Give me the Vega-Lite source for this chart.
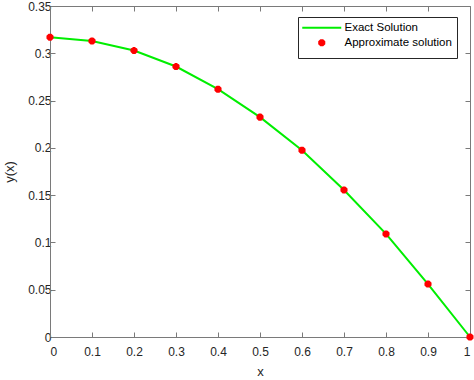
{
  "$schema": "https://vega.github.io/schema/vega-lite/v6.json",
  "width": 420,
  "height": 331,
  "autosize": {"type": "none"},
  "padding": {"left": 50, "top": 6, "right": 4, "bottom": 43},
  "background": "white",
  "config": {
    "view": {"stroke": null},
    "font": "Liberation Sans",
    "axis": {
      "grid": false,
      "domainColor": "#7a7a7a",
      "tickColor": "#7a7a7a",
      "tickSize": -5,
      "labelColor": "#262626",
      "labelFontSize": 12,
      "labelFont": "Liberation Sans",
      "titleFont": "Liberation Sans",
      "titleFontSize": 13,
      "titleFontWeight": "normal",
      "titleColor": "#262626"
    }
  },
  "data": {
    "values": [
      {"x": 0.0, "y": 0.317},
      {"x": 0.1, "y": 0.313},
      {"x": 0.2, "y": 0.303},
      {"x": 0.3, "y": 0.286},
      {"x": 0.4, "y": 0.262},
      {"x": 0.5, "y": 0.2325},
      {"x": 0.6, "y": 0.1975},
      {"x": 0.7, "y": 0.1555},
      {"x": 0.8, "y": 0.109},
      {"x": 0.9, "y": 0.056},
      {"x": 1.0, "y": 0.0}
    ]
  },
  "resolve": {"axis": {"x": "independent", "y": "independent"}},
  "layer": [
    {
      "mark": {"type": "line", "color": "#00ee00", "strokeWidth": 2},
      "encoding": {
        "x": {
          "field": "x", "type": "quantitative",
          "scale": {"domain": [0, 1], "nice": false},
          "axis": {"values": [0, 0.1, 0.2, 0.3, 0.4, 0.5, 0.6, 0.7, 0.8, 0.9, 1], "format": "~g", "title": "x", "labelPadding": 14, "titlePadding": 8}
        },
        "y": {
          "field": "y", "type": "quantitative",
          "scale": {"domain": [0, 0.35], "nice": false},
          "axis": {"values": [0, 0.05, 0.1, 0.15, 0.2, 0.25, 0.3, 0.35], "format": "~g", "title": "y(x)", "labelPadding": 4, "titlePadding": 11}
        },
        "color": {
          "datum": "Exact Solution",
          "type": "nominal",
          "scale": {"domain": ["Exact Solution", "Approximate solution"], "range": ["#00ee00", "#ff0000"]},
          "legend": {
            "title": null,
            "orient": "none",
            "legendX": 248,
            "legendY": 11,
            "strokeColor": "#262626",
            "fillColor": "white",
            "padding": 5,
            "labelFontSize": 11.5,
            "labelColor": "#000000",
            "labelFont": "Liberation Sans",
            "symbolOffset": 13,
            "labelOffset": 17,
            "rowPadding": -1,
            "encode": {
              "symbols": {
                "update": {
                  "shape": {"signal": "datum.value === 'Exact Solution' ? 'stroke' : 'M-1,0L1,0M0,-1L0,1M-0.7,-0.7L0.7,0.7M-0.7,0.7L0.7,-0.7'"},
                  "size": {"signal": "datum.value === 'Exact Solution' ? 1521 : 50"},
                  "stroke": {"signal": "datum.value === 'Exact Solution' ? '#00ee00' : '#ff0000'"},
                  "strokeWidth": {"signal": "datum.value === 'Exact Solution' ? 2 : 3"},
                  "fill": {"value": "transparent"}
                }
              }
            }
          }
        }
      }
    },
    {
      "mark": {"type": "point", "shape": "M-1,0L1,0M0,-1L0,1M-0.7,-0.7L0.7,0.7M-0.7,0.7L0.7,-0.7", "size": 50, "strokeWidth": 3, "filled": false, "opacity": 1},
      "encoding": {
        "x": {
          "field": "x", "type": "quantitative",
          "scale": {"domain": [0, 1], "nice": false},
          "axis": {"orient": "top", "values": [0, 0.1, 0.2, 0.3, 0.4, 0.5, 0.6, 0.7, 0.8, 0.9, 1], "labels": false, "title": null}
        },
        "y": {
          "field": "y", "type": "quantitative",
          "scale": {"domain": [0, 0.35], "nice": false},
          "axis": {"orient": "right", "values": [0, 0.05, 0.1, 0.15, 0.2, 0.25, 0.3, 0.35], "labels": false, "title": null}
        },
        "color": {"datum": "Approximate solution", "type": "nominal"}
      }
    }
  ]
}
